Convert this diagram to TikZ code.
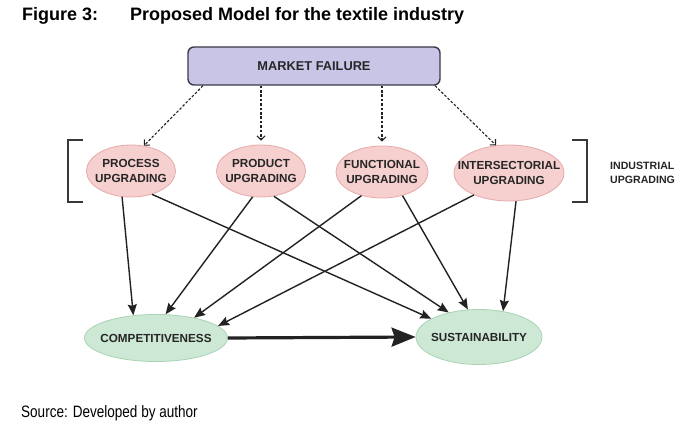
\documentclass[tikz,border=0pt]{standalone}
\usepackage{fontspec}
\setmainfont{Liberation Sans}
\newfontfamily\narrowfont[FakeStretch=0.82]{Liberation Sans}
\usetikzlibrary{shapes.geometric,arrows.meta,calc}
\definecolor{mffill}{HTML}{C8C5E7}
\definecolor{mfdraw}{HTML}{3A3A48}
\definecolor{pinkfill}{HTML}{F6CFCF}
\definecolor{pinkdraw}{HTML}{E7A9A9}
\definecolor{greenfill}{HTML}{CDE8D5}
\definecolor{greendraw}{HTML}{A8D3B4}
\definecolor{txt}{HTML}{262626}
\definecolor{lin}{HTML}{222222}
\tikzset{
  upgtext/.style={align=center, text=txt, inner sep=0pt, font=\fontsize{11.7}{15}\selectfont\bfseries},
  upg/.style={ellipse, fill=pinkfill, draw=pinkdraw, line width=0.8pt, inner sep=0pt},
  outc/.style={ellipse, fill=greenfill, draw=greendraw, line width=0.8pt, inner sep=0pt},
  dasharr/.style={draw=lin, line width=1.1pt, dash pattern=on 2.6pt off 1.8pt,
    -{Straight Barb[length=4pt,width=8pt]}},
  solarr/.style={draw=lin, line width=1.4pt, -{Stealth[length=11pt,width=9pt,inset=1.5pt]}},
  bigarr/.style={draw=lin, line width=3.2pt, -{Stealth[length=24pt,width=19pt,inset=3pt]}},
  brack/.style={draw=lin!90, line width=2pt}
}
\begin{document}
\begin{tikzpicture}[x=1pt,y=-1pt]
\useasboundingbox[fill=white] (0,0) rectangle (685,427);
% title
\node[anchor=base west, inner sep=0pt, font=\fontsize{18}{20}\selectfont\bfseries] (fig) at (22,21) {Figure 3:};
\node[anchor=base west, inner sep=0pt, font=\fontsize{18}{20}\selectfont\bfseries] (ttl) at (130,21) {Proposed Model for the textile industry};
% market failure
\node[rounded corners=6pt, fill=mffill, draw=mfdraw, line width=1.4pt, minimum width=252pt, minimum height=38pt,
  text=txt, font=\fontsize{12.8}{14}\selectfont\bfseries] (mf) at (314,66) {MARKET FAILURE};
% upgrading nodes
\node[upg, minimum width=89pt, minimum height=52pt, label={[upgtext]center:PROCESS\\UPGRADING}] (proc) at (131,171) {};
\node[upg, minimum width=89pt, minimum height=52pt, label={[upgtext]center:PRODUCT\\UPGRADING}] (prod) at (261,171) {};
\node[upg, minimum width=92pt, minimum height=52pt, label={[upgtext]center:FUNCTIONAL\\UPGRADING}] (func) at (382,172) {};
\node[upg, minimum width=110pt, minimum height=56pt, label={[upgtext]center:INTERSECTORIAL\\UPGRADING}] (inter) at (509,173) {};
% outcomes
\node[outc, minimum width=143pt, minimum height=47pt, label={[upgtext]center:COMPETITIVENESS}] (comp) at (156,338) {};
\node[outc, minimum width=126pt, minimum height=55pt, label={[upgtext]center:SUSTAINABILITY}] (sust) at (479,337) {};
% industrial upgrading label
\node[anchor=west, align=left, inner sep=0pt, text=txt, font=\fontsize{10.6}{14}\selectfont\bfseries] (ind) at (610,173) {INDUSTRIAL\\UPGRADING};
% brackets
\draw[brack] (83,140) -- (68,140) -- (68,202) -- (83,202);
\draw[brack] (572,140) -- (587,140) -- (587,202) -- (572,202);
% dashed arrows
\draw[dasharr] ($(mf.south)+(-111,0)$) -- (proc.63);
\draw[dasharr] (mf.south -| prod.north) -- ($(prod.north)+(0,-4)$);
\draw[dasharr] (mf.south -| func.north) -- ($(func.north)+(0,-4)$);
\draw[dasharr] ($(mf.south)+(121,0)$) -- (inter.115);
% solid arrows
\draw[solarr] (proc.251.6) -- (comp.135);
\draw[solarr] (proc.-48.8) -- (sust.159.6);
\draw[solarr] (prod.-108.4) -- (comp.68.6);
\draw[solarr] (prod.-63.4) -- (sust.141.5);
\draw[solarr] (func.-131) -- (comp.28.7);
\draw[solarr] (func.-49) -- (sust.112.4);
\draw[solarr] (inter.-148) -- (comp.11.1);
\draw[solarr] (inter.-76) -- (sust.47);
% big arrow
\draw[bigarr] (comp.east) -- (sust.west);
% source
\node[anchor=base west, inner sep=0pt, font=\narrowfont\fontsize{16.5}{18}\selectfont] (src) at (21,417) {Source: Developed by author};
\end{tikzpicture}
\end{document}
